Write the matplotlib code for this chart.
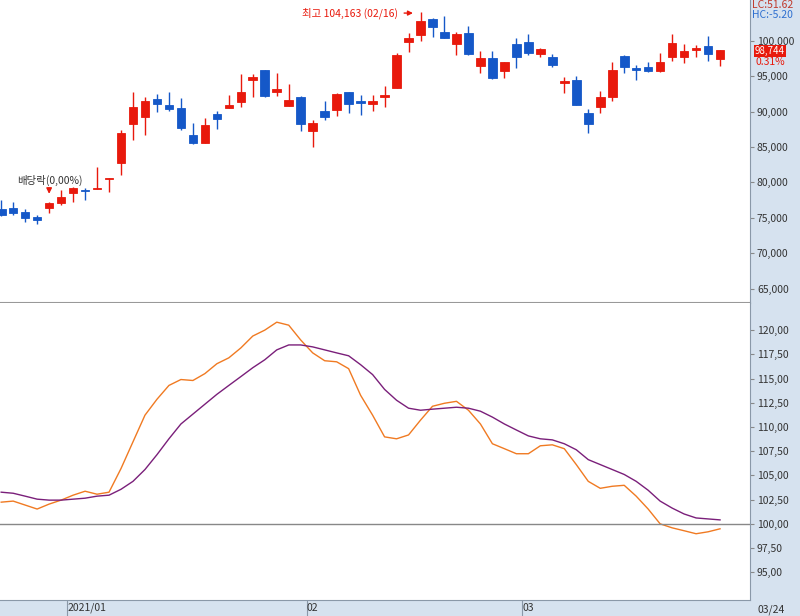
import numpy as np
import matplotlib
matplotlib.use('Agg')
import matplotlib.pyplot as plt
from matplotlib.ticker import FuncFormatter

plt.rcParams['font.family'] = ['Noto Sans CJK KR', 'DejaVu Sans']

# 일봉 OHLC (2020/12 ~ 2021/03/24)
opens = [76250, 76390, 75820, 75120, 76390, 77100, 78510, 78930, 79080, 80490,
         82750, 88270, 89250, 91800, 90950, 90530, 86710, 85580, 89680, 90530,
         91380, 94490, 95900, 92790, 90810, 92080, 87280, 90110, 90250, 92790,
         91520, 91090, 92150, 93360, 99860, 100850, 103110, 101280, 99580, 101130,
         96470, 97600, 95760, 99580, 99860, 98160, 97740, 94060, 94490, 89820,
         90670, 92080, 97880, 96180, 96330, 95760, 97740, 97740, 98730, 99300,
         97460]
highs = [77520, 77240, 76250, 75400, 77240, 78930, 79360, 79220, 82190, 80630,
         87420, 92790, 92080, 92510, 92790, 91940, 88410, 89110, 90110, 92370,
         95340, 95340, 95900, 95480, 93920, 92230, 88830, 91520, 92650, 92790,
         92370, 92370, 93640, 98310, 101130, 104163, 103250, 103540, 101280, 102120,
         98590, 98590, 97030, 100430, 100990, 99010, 98160, 94910, 95050, 90390,
         92930, 97030, 98020, 96610, 97030, 98310, 100990, 99580, 99440, 100710,
         98744]
lows = [75260, 75400, 74410, 74130, 75680, 76810, 77240, 77520, 79080, 78650,
        81050, 86000, 86710, 89960, 90110, 87420, 85440, 85580, 87560, 90530,
        90670, 92080, 92080, 92230, 90810, 87280, 85010, 88830, 89400, 89820,
        89540, 90110, 90670, 93360, 98450, 100000, 100570, 100430, 98020, 98020,
        95480, 94630, 94770, 96180, 98020, 97740, 96330, 92650, 90950, 87000,
        89820, 91520, 95480, 94490, 95620, 95620, 97170, 96890, 97740, 97170,
        96470]
closes = [75400, 75680, 74970, 74690, 77100, 77940, 79220, 78790, 79220, 80630,
          86990, 90670, 91520, 91090, 90390, 87700, 85580, 88130, 88970, 90950,
          92790, 94910, 92230, 93220, 91660, 88270, 88410, 89250, 92510, 91090,
          91240, 91520, 92300, 98020, 100430, 102830, 101980, 100430, 100990, 98160,
          97600, 94770, 97030, 97740, 98310, 98870, 96610, 94350, 90950, 88270,
          92080, 95900, 96330, 95900, 95760, 97030, 99720, 98590, 99010, 98160,
          98744]

# 보조지표 (두 선)
fast_line = [102.24, 102.35, 101.94, 101.53, 102.04, 102.45, 102.96, 103.37, 103.06, 103.27,
             105.71, 108.47, 111.22, 112.86, 114.29, 114.90, 114.80, 115.51, 116.53, 117.14,
             118.16, 119.39, 120.00, 120.82, 120.51, 118.98, 117.65, 116.84, 116.73, 116.02,
             113.27, 111.22, 108.98, 108.78, 109.18, 110.71, 112.14, 112.45, 112.65, 111.73,
             110.31, 108.27, 107.76, 107.24, 107.24, 108.06, 108.16, 107.76, 106.12, 104.39,
             103.67, 103.88, 103.98, 102.86, 101.53, 100.00, 99.59, 99.29, 98.98, 99.18,
             99.49]
slow_line = [103.27, 103.16, 102.86, 102.55, 102.45, 102.45, 102.55, 102.65, 102.86, 102.96,
             103.57, 104.39, 105.61, 107.14, 108.78, 110.31, 111.33, 112.35, 113.37, 114.29,
             115.20, 116.12, 116.94, 117.96, 118.47, 118.47, 118.27, 117.96, 117.65, 117.35,
             116.43, 115.41, 113.88, 112.76, 111.94, 111.73, 111.84, 111.94, 112.04, 111.94,
             111.63, 111.02, 110.31, 109.69, 109.08, 108.78, 108.67, 108.27, 107.65, 106.63,
             106.12, 105.61, 105.10, 104.39, 103.47, 102.35, 101.63, 101.02, 100.61, 100.51,
             100.41]

date_ticks = [5.5, 25.5, 43.5]
date_labels = ['2021/01', '02', '03']
price_ticks = [65000, 70000, 75000, 80000, 85000, 90000, 95000, 100000]
ind_ticks = [95, 97.5, 100, 102.5, 105, 107.5, 110, 112.5, 115, 117.5, 120]

UP = '#e8190c'
DOWN = '#1558c8'
BAND = '#d6e2ef'
TXT = '#333333'

fig = plt.figure(figsize=(8, 6.16), dpi=100, facecolor=BAND)
ax_p = fig.add_axes([0, 313 / 616, 750 / 800, 303 / 616])
ax_i = fig.add_axes([0, 16 / 616, 750 / 800, 297 / 616], sharex=ax_p)

n = len(closes)
x = np.arange(n)
for i in range(n):
    col = UP if closes[i] >= opens[i] else DOWN
    ax_p.vlines(x[i], lows[i], highs[i], color=col, lw=1)
    lo, hi = sorted([opens[i], closes[i]])
    h = max(hi - lo, 120)
    ax_p.bar(x[i], h, bottom=lo, width=0.72, color=col, edgecolor=col, lw=0.6)

ax_p.set_ylim(62956, 105800)
ax_p.set_xlim(-0.1, 62.5)
ax_i.set_ylim(92.14, 122.8)

for ax in (ax_p, ax_i):
    ax.set_facecolor('white')
    ax.yaxis.tick_right()
    ax.tick_params(axis='y', direction='out', length=3, labelsize=7.5, colors='#888888',
                   labelcolor=TXT, pad=2)
    for s in ax.spines.values():
        s.set_visible(False)
    ax.spines['right'].set_visible(True)
    ax.spines['right'].set_color('#8a98a8')

ax_p.set_yticks(price_ticks)
ax_p.yaxis.set_major_formatter(FuncFormatter(lambda v, p: f'{int(v):,}'))
ax_p.tick_params(axis='x', bottom=False, labelbottom=False)
ax_p.axhline(62956, color='#999999', lw=1.5, clip_on=False)

ax_i.set_yticks(ind_ticks)
ax_i.yaxis.set_major_formatter(FuncFormatter(lambda v, p: f'{v:.2f}'.replace('.', ',')))
ax_i.plot(x, fast_line, color='#f07a22', lw=1)
ax_i.plot(x, slow_line, color='#7a1f7a', lw=1)
ax_i.axhline(100, color='#888888', lw=1)

ax_i.set_xticks(date_ticks)
ax_i.set_xticklabels(date_labels, ha='left')
ax_i.tick_params(axis='x', direction='out', length=14, color='#8a98a8', labelsize=7.5,
                 labelcolor=TXT, pad=-12)
ax_i.spines['bottom'].set_visible(True)
ax_i.spines['bottom'].set_color('#8a98a8')

# 주석
ax_p.text(33.1, 103950, '최고 104,163 (02/16)', color=UP, fontsize=7.5, va='center', ha='right')
ax_p.annotate('', xy=(34.6, 103950), xytext=(33.4, 103950),
              arrowprops=dict(arrowstyle='-|>', color=UP, lw=1, mutation_scale=7))
ax_p.text(1.3, 80350, '배당락(0,00%)', color=TXT, fontsize=7.5, va='center')
ax_p.annotate('', xy=(4, 78000), xytext=(4, 79600),
              arrowprops=dict(arrowstyle='-|>', color=UP, lw=1, mutation_scale=8))

fig.text(752 / 800, 1 - 5 / 616, 'LC:51.62', color='#c0392b', fontsize=7.5, va='center')
fig.text(752 / 800, 1 - 15 / 616, 'HC:-5.20', color='#2e6fd0', fontsize=7.5, va='center')
fig.text(755 / 800, 1 - 51 / 616, '98,744', color='white', fontsize=7, va='center',
         bbox=dict(boxstyle='square,pad=0.12', fc=UP, ec='none'))
fig.text(755 / 800, 1 - 62 / 616, '0.31%', color=UP, fontsize=7.5, va='center')
fig.text(757 / 800, 6 / 616, '03/24', color=TXT, fontsize=7.5, va='center')

fig.savefig('out.png', dpi=100, facecolor=BAND)
